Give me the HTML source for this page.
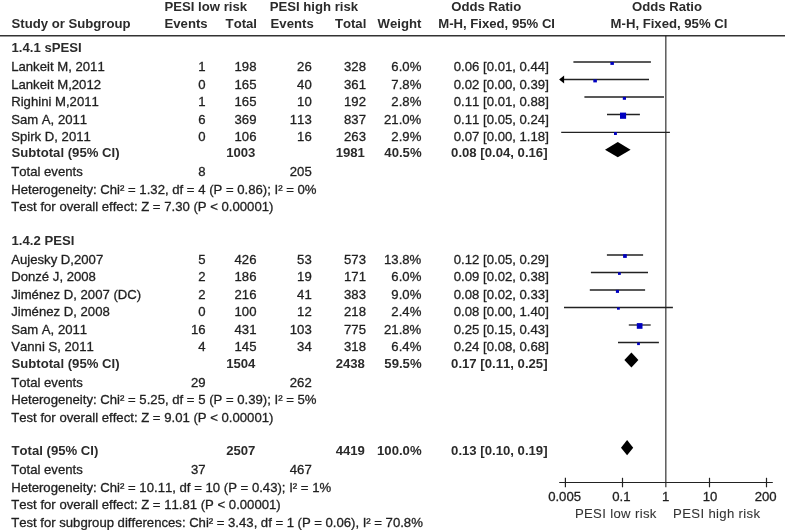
<!DOCTYPE html>
<html><head><meta charset="utf-8"><title>Forest plot</title>
<style>
html,body{margin:0;padding:0;background:#fff;}
#p{position:relative;width:785px;height:530px;overflow:hidden;background:#fff;font-family:"Liberation Sans",Arial,Helvetica,sans-serif;font-size:13.15px;color:#1f1f1f;}
#p span{position:absolute;white-space:pre;line-height:20px;-webkit-text-stroke:0.3px #1f1f1f;font-kerning:none;}
#p svg{position:absolute;left:0;top:0;}
</style></head><body>
<div id="p">
<svg width="785" height="530" viewBox="0 0 785 530">
<line x1="0" y1="35.7" x2="785" y2="35.7" stroke="#333" stroke-width="1.42"/>
<line x1="665.85" y1="35.7" x2="665.85" y2="487.3" stroke="#1c1c1c" stroke-width="1.08"/>
<line x1="559.2" y1="482.5" x2="772.8" y2="482.5" stroke="#222" stroke-width="1.2"/>
<line x1="565.4" y1="477.8" x2="565.4" y2="487.3" stroke="#222" stroke-width="1.2"/>
<line x1="622.5" y1="477.8" x2="622.5" y2="487.3" stroke="#222" stroke-width="1.2"/>
<line x1="709.5" y1="477.8" x2="709.5" y2="487.3" stroke="#222" stroke-width="1.2"/>
<line x1="766.5" y1="477.8" x2="766.5" y2="487.3" stroke="#222" stroke-width="1.2"/>
<line x1="573.4" y1="62.0" x2="650.9" y2="62.0" stroke="#222" stroke-width="1.28"/>
<rect x="610.4" y="62.0" width="3.5" height="2.9" fill="#0000c0"/>
<line x1="560.4" y1="79.5" x2="649.0" y2="79.5" stroke="#222" stroke-width="1.28"/>
<polygon points="559.1,79.5 564.1,75.4 564.1,83.6" fill="#000"/>
<rect x="593.3" y="79.4" width="3.6" height="3.0" fill="#0000c0"/>
<line x1="584.4" y1="97.0" x2="664.0" y2="97.0" stroke="#222" stroke-width="1.28"/>
<rect x="622.8" y="96.9" width="3.2" height="2.9" fill="#0000c0"/>
<line x1="607.0" y1="114.5" x2="639.9" y2="114.5" stroke="#222" stroke-width="1.28"/>
<rect x="620.0" y="112.6" width="6.1" height="6.2" fill="#0000c0"/>
<line x1="561.2" y1="132.4" x2="669.9" y2="132.4" stroke="#222" stroke-width="1.28"/>
<rect x="614.0" y="132.1" width="2.9" height="2.9" fill="#0000c0"/>
<polygon points="605.0,149.65 617.8,142.1 630.5999999999999,149.65 617.8,157.20000000000002" fill="#000"/>
<line x1="606.9" y1="255.0" x2="643.1" y2="255.0" stroke="#222" stroke-width="1.28"/>
<rect x="623.1" y="254.2" width="3.7" height="3.7" fill="#0000c0"/>
<line x1="590.9" y1="272.5" x2="648.0" y2="272.5" stroke="#222" stroke-width="1.28"/>
<rect x="618.0" y="272.3" width="2.8" height="2.6" fill="#0000c0"/>
<line x1="589.8" y1="290.0" x2="645.1" y2="290.0" stroke="#222" stroke-width="1.28"/>
<rect x="615.9" y="289.9" width="3.1" height="3.0" fill="#0000c0"/>
<line x1="564.0" y1="307.5" x2="672.9" y2="307.5" stroke="#222" stroke-width="1.28"/>
<rect x="617.0" y="307.4" width="2.8" height="2.3" fill="#0000c0"/>
<line x1="628.8" y1="325.0" x2="650.7" y2="325.0" stroke="#222" stroke-width="1.28"/>
<rect x="636.8" y="323.1" width="5.7" height="5.7" fill="#0000c0"/>
<line x1="618.0" y1="342.5" x2="658.9" y2="342.5" stroke="#222" stroke-width="1.28"/>
<rect x="637.1" y="342.5" width="2.8" height="2.6" fill="#0000c0"/>
<polygon points="624.4,359.95 631.4,352.45 638.4,359.95 631.4,367.45" fill="#000"/>
<polygon points="621.0,447.65 627.1,440.04999999999995 633.2,447.65 627.1,455.25" fill="#000"/>
</svg>
<span style="top:14px;left:11.50px;font-weight:bold;-webkit-text-stroke:0;color:#2b2b2b;">Study or Subgroup</span>
<span style="top:-3px;left:164.50px;font-weight:bold;-webkit-text-stroke:0;color:#2b2b2b;">PESI low risk</span>
<span style="top:-3px;left:269.70px;font-weight:bold;-webkit-text-stroke:0;color:#2b2b2b;">PESI high risk</span>
<span style="top:14px;left:164.50px;font-weight:bold;-webkit-text-stroke:0;color:#2b2b2b;">Events</span>
<span style="top:14px;right:528.00px;font-weight:bold;-webkit-text-stroke:0;color:#2b2b2b;">Total</span>
<span style="top:14px;left:270.60px;font-weight:bold;-webkit-text-stroke:0;color:#2b2b2b;">Events</span>
<span style="top:14px;right:418.70px;font-weight:bold;-webkit-text-stroke:0;color:#2b2b2b;">Total</span>
<span style="top:14px;right:363.70px;font-weight:bold;-webkit-text-stroke:0;color:#2b2b2b;">Weight</span>
<span style="top:-3px;left:451.20px;font-weight:bold;-webkit-text-stroke:0;color:#2b2b2b;">Odds Ratio</span>
<span style="top:14px;left:438.20px;font-weight:bold;-webkit-text-stroke:0;color:#2b2b2b;">M-H, Fixed, 95% CI</span>
<span style="top:-3px;left:517.00px;width:300px;text-align:center;font-weight:bold;-webkit-text-stroke:0;color:#2b2b2b;">Odds Ratio</span>
<span style="top:14px;left:519.00px;width:300px;text-align:center;font-weight:bold;-webkit-text-stroke:0;color:#2b2b2b;">M-H, Fixed, 95% CI</span>
<span style="top:38px;left:11.50px;font-weight:bold;-webkit-text-stroke:0;color:#2b2b2b;">1.4.1 sPESI</span>
<span style="top:57px;left:11.20px;">Lankeit M, 2011</span>
<span style="top:57px;right:579.50px;">1</span>
<span style="top:57px;right:528.50px;">198</span>
<span style="top:57px;right:473.30px;">26</span>
<span style="top:57px;right:419.00px;">328</span>
<span style="top:57px;right:363.70px;">6.0%</span>
<span style="top:57px;left:453.80px;">0.06 [0.01, 0.44]</span>
<span style="top:75px;left:11.20px;">Lankeit M,2012</span>
<span style="top:75px;right:579.50px;">0</span>
<span style="top:75px;right:528.50px;">165</span>
<span style="top:75px;right:473.30px;">40</span>
<span style="top:75px;right:419.00px;">361</span>
<span style="top:75px;right:363.70px;">7.8%</span>
<span style="top:75px;left:453.80px;">0.02 [0.00, 0.39]</span>
<span style="top:92px;left:11.20px;">Righini M,2011</span>
<span style="top:92px;right:579.50px;">1</span>
<span style="top:92px;right:528.50px;">165</span>
<span style="top:92px;right:473.30px;">10</span>
<span style="top:92px;right:419.00px;">192</span>
<span style="top:92px;right:363.70px;">2.8%</span>
<span style="top:92px;left:453.80px;">0.11 [0.01, 0.88]</span>
<span style="top:110px;left:11.20px;">Sam A, 2011</span>
<span style="top:110px;right:579.50px;">6</span>
<span style="top:110px;right:528.50px;">369</span>
<span style="top:110px;right:473.30px;">113</span>
<span style="top:110px;right:419.00px;">837</span>
<span style="top:110px;right:363.70px;">21.0%</span>
<span style="top:110px;left:453.80px;">0.11 [0.05, 0.24]</span>
<span style="top:127px;left:11.20px;">Spirk D, 2011</span>
<span style="top:127px;right:579.50px;">0</span>
<span style="top:127px;right:528.50px;">106</span>
<span style="top:127px;right:473.30px;">16</span>
<span style="top:127px;right:419.00px;">263</span>
<span style="top:127px;right:363.70px;">2.9%</span>
<span style="top:127px;left:453.80px;">0.07 [0.00, 1.18]</span>
<span style="top:143px;left:11.50px;font-weight:bold;-webkit-text-stroke:0;color:#2b2b2b;">Subtotal (95% CI)</span>
<span style="top:143px;right:529.60px;font-weight:bold;-webkit-text-stroke:0;color:#2b2b2b;">1003</span>
<span style="top:143px;right:420.10px;font-weight:bold;-webkit-text-stroke:0;color:#2b2b2b;">1981</span>
<span style="top:143px;right:363.40px;font-weight:bold;-webkit-text-stroke:0;color:#2b2b2b;">40.5%</span>
<span style="top:143px;left:451.10px;font-weight:bold;-webkit-text-stroke:0;color:#2b2b2b;">0.08 [0.04, 0.16]</span>
<span style="top:162px;left:11.20px;">Total events</span>
<span style="top:162px;right:579.50px;">8</span>
<span style="top:162px;right:473.30px;">205</span>
<span style="top:180px;left:11.20px;">Heterogeneity: Chi² = 1.32, df = 4 (P = 0.86); I² = 0%</span>
<span style="top:197px;left:11.20px;">Test for overall effect: Z = 7.30 (P &lt; 0.00001)</span>
<span style="top:231px;left:11.50px;font-weight:bold;-webkit-text-stroke:0;color:#2b2b2b;">1.4.2 PESI</span>
<span style="top:250px;left:11.20px;">Aujesky D,2007</span>
<span style="top:250px;right:579.50px;">5</span>
<span style="top:250px;right:528.50px;">426</span>
<span style="top:250px;right:473.30px;">53</span>
<span style="top:250px;right:419.00px;">573</span>
<span style="top:250px;right:363.70px;">13.8%</span>
<span style="top:250px;left:453.80px;">0.12 [0.05, 0.29]</span>
<span style="top:267px;left:11.20px;">Donzé J, 2008</span>
<span style="top:267px;right:579.50px;">2</span>
<span style="top:267px;right:528.50px;">186</span>
<span style="top:267px;right:473.30px;">19</span>
<span style="top:267px;right:419.00px;">171</span>
<span style="top:267px;right:363.70px;">6.0%</span>
<span style="top:267px;left:453.80px;">0.09 [0.02, 0.38]</span>
<span style="top:285px;left:11.20px;">Jiménez D, 2007 (DC)</span>
<span style="top:285px;right:579.50px;">2</span>
<span style="top:285px;right:528.50px;">216</span>
<span style="top:285px;right:473.30px;">41</span>
<span style="top:285px;right:419.00px;">383</span>
<span style="top:285px;right:363.70px;">9.0%</span>
<span style="top:285px;left:453.80px;">0.08 [0.02, 0.33]</span>
<span style="top:302px;left:11.20px;">Jiménez D, 2008</span>
<span style="top:302px;right:579.50px;">0</span>
<span style="top:302px;right:528.50px;">100</span>
<span style="top:302px;right:473.30px;">12</span>
<span style="top:302px;right:419.00px;">218</span>
<span style="top:302px;right:363.70px;">2.4%</span>
<span style="top:302px;left:453.80px;">0.08 [0.00, 1.40]</span>
<span style="top:320px;left:11.20px;">Sam A, 2011</span>
<span style="top:320px;right:579.50px;">16</span>
<span style="top:320px;right:528.50px;">431</span>
<span style="top:320px;right:473.30px;">103</span>
<span style="top:320px;right:419.00px;">775</span>
<span style="top:320px;right:363.70px;">21.8%</span>
<span style="top:320px;left:453.80px;">0.25 [0.15, 0.43]</span>
<span style="top:337px;left:11.20px;">Vanni S, 2011</span>
<span style="top:337px;right:579.50px;">4</span>
<span style="top:337px;right:528.50px;">145</span>
<span style="top:337px;right:473.30px;">34</span>
<span style="top:337px;right:419.00px;">318</span>
<span style="top:337px;right:363.70px;">6.4%</span>
<span style="top:337px;left:453.80px;">0.24 [0.08, 0.68]</span>
<span style="top:354px;left:11.50px;font-weight:bold;-webkit-text-stroke:0;color:#2b2b2b;">Subtotal (95% CI)</span>
<span style="top:354px;right:529.60px;font-weight:bold;-webkit-text-stroke:0;color:#2b2b2b;">1504</span>
<span style="top:354px;right:420.10px;font-weight:bold;-webkit-text-stroke:0;color:#2b2b2b;">2438</span>
<span style="top:354px;right:363.40px;font-weight:bold;-webkit-text-stroke:0;color:#2b2b2b;">59.5%</span>
<span style="top:354px;left:451.10px;font-weight:bold;-webkit-text-stroke:0;color:#2b2b2b;">0.17 [0.11, 0.25]</span>
<span style="top:373px;left:11.20px;">Total events</span>
<span style="top:373px;right:579.50px;">29</span>
<span style="top:373px;right:473.30px;">262</span>
<span style="top:390px;left:11.20px;">Heterogeneity: Chi² = 5.25, df = 5 (P = 0.39); I² = 5%</span>
<span style="top:408px;left:11.20px;">Test for overall effect: Z = 9.01 (P &lt; 0.00001)</span>
<span style="top:441px;left:11.50px;font-weight:bold;-webkit-text-stroke:0;color:#2b2b2b;">Total (95% CI)</span>
<span style="top:441px;right:529.60px;font-weight:bold;-webkit-text-stroke:0;color:#2b2b2b;">2507</span>
<span style="top:441px;right:420.10px;font-weight:bold;-webkit-text-stroke:0;color:#2b2b2b;">4419</span>
<span style="top:441px;right:363.40px;font-weight:bold;-webkit-text-stroke:0;color:#2b2b2b;">100.0%</span>
<span style="top:441px;left:451.10px;font-weight:bold;-webkit-text-stroke:0;color:#2b2b2b;">0.13 [0.10, 0.19]</span>
<span style="top:460px;left:11.20px;">Total events</span>
<span style="top:460px;right:579.50px;">37</span>
<span style="top:460px;right:473.30px;">467</span>
<span style="top:478px;left:11.20px;">Heterogeneity: Chi² = 10.11, df = 10 (P = 0.43); I² = 1%</span>
<span style="top:495px;left:11.20px;">Test for overall effect: Z = 11.81 (P &lt; 0.00001)</span>
<span style="top:513px;left:11.20px;word-spacing:-0.07px;">Test for subgroup differences: Chi² = 3.43, df = 1 (P = 0.06), I² = 70.8%</span>
<span style="top:487px;left:414.60px;width:300px;text-align:center;">0.005</span>
<span style="top:487px;left:471.40px;width:300px;text-align:center;">0.1</span>
<span style="top:487px;left:515.60px;width:300px;text-align:center;">1</span>
<span style="top:487px;left:560.00px;width:300px;text-align:center;">10</span>
<span style="top:487px;left:615.70px;width:300px;text-align:center;">200</span>
<span style="top:504px;left:574.90px;color:#333;-webkit-text-stroke:0.08px #333;letter-spacing:0.34px;">PESI low risk</span>
<span style="top:504px;left:673.10px;color:#333;-webkit-text-stroke:0.08px #333;letter-spacing:0.34px;">PESI high risk</span>
</div>
</body></html>
